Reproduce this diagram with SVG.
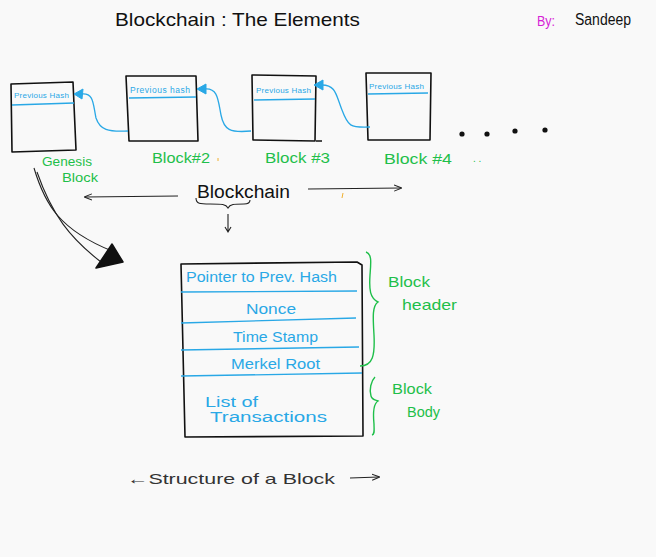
<svg xmlns="http://www.w3.org/2000/svg" width="656" height="557" viewBox="0 0 656 557">
<defs>
<style>
.bg{fill:#f9f9f9}
.box{fill:none;stroke:#111;stroke-width:1.6;stroke-linejoin:round}
.sep{fill:none;stroke:#29a8e6;stroke-width:1.3}
.con{fill:none;stroke:#29a8e6;stroke-width:1.3}
.head{fill:#29a8e6;stroke:#29a8e6;stroke-width:1;stroke-linejoin:round}
.ink{fill:none;stroke:#222;stroke-width:1.1}
.brace{fill:none;stroke:#1fbf4a;stroke-width:1.4}
.t{font-family:"Liberation Sans",Arial,sans-serif}
.blue{fill:#29a8e6}
.green{fill:#1fbf4a}
.black{fill:#111}
</style>
<marker id="open" viewBox="0 0 10 10" refX="9" refY="5" markerWidth="7" markerHeight="7" orient="auto">
<path d="M0,1 L10,5 L0,9" fill="none" stroke="#222" stroke-width="1.3"/>
</marker>
</defs>
<rect class="bg" x="0" y="0" width="656" height="557"/>

<g id="title">
<text class="t black" x="115" y="26" font-size="19" textLength="245" lengthAdjust="spacingAndGlyphs">Blockchain : The Elements</text>
<text class="t" x="537" y="26" font-size="15" fill="#d61fd6" textLength="18" lengthAdjust="spacingAndGlyphs">By:</text>
<text class="t black" x="575" y="25" font-size="16" textLength="56" lengthAdjust="spacingAndGlyphs">Sandeep</text>
</g>

<g id="genesis">
<path class="box" d="M11,84 L73,82 L76,150 L12,152 Z"/>
<path class="sep" d="M12,105 L74,103"/>
<text class="t blue" x="14" y="98" font-size="8" textLength="55">Previous Hash</text>
<text class="t green" x="42" y="166" font-size="13" textLength="50" lengthAdjust="spacingAndGlyphs">Genesis</text>
<text class="t green" x="62" y="182" font-size="13" textLength="36" lengthAdjust="spacingAndGlyphs">Block</text>
</g>

<g id="block2">
<path class="box" d="M126,76 L196,76 L198,141 L129,141 Z"/>
<path class="sep" d="M129,98 L196,97"/>
<text class="t blue" x="130" y="93" font-size="8.5" textLength="60">Previous hash</text>
<text class="t green" x="152" y="163" font-size="14" textLength="58" lengthAdjust="spacingAndGlyphs">Block#2</text>
</g>

<g id="block3">
<path class="box" d="M252,75 L316,76 L315,141 L253,140 Z M316,141 L322,141"/>
<path class="sep" d="M254,100 L315,99"/>
<text class="t blue" x="256" y="93" font-size="8" textLength="55">Previous Hash</text>
<text class="t green" x="265" y="163" font-size="14" textLength="65" lengthAdjust="spacingAndGlyphs">Block #3</text>
</g>

<g id="block4">
<path class="box" d="M366,73 L431,73 L430,140 L368,140 Z"/>
<path class="sep" d="M368,94 L428,93"/>
<text class="t blue" x="369" y="89" font-size="8" textLength="55">Previous Hash</text>
<text class="t green" x="384" y="164" font-size="15" textLength="68" lengthAdjust="spacingAndGlyphs">Block #4</text>
<text class="t green" x="473" y="162" font-size="10">. .</text>
</g>

<g id="dots" fill="#111">
<circle cx="462" cy="134" r="2.6"/>
<circle cx="487" cy="134" r="2.6"/>
<circle cx="515" cy="131" r="2.6"/>
<circle cx="545" cy="130" r="2.6"/>
</g>

<g id="connectors">
<path class="con" d="M128,131 C108,132 100,130 96,118 C93,104 94,93 82,94"/>
<path class="head" d="M74,94 L83,89 L82,99 Z"/>
<path class="con" d="M251,131 C230,133 224,130 221,115 C218,100 218,88 205,89"/>
<path class="head" d="M197,89 L206,84 L206,94 Z"/>
<path class="con" d="M370,127 C350,128 348,126 342,110 C336,95 336,85 322,85"/>
<path class="head" d="M314,85 L323,80 L323,90 Z"/>
</g>

<g id="chain-label">
<text class="t black" x="197" y="198" font-size="18" textLength="93" lengthAdjust="spacingAndGlyphs">Blockchain</text>
<path class="ink" marker-end="url(#open)" d="M178,196 L85,197"/>
<path class="ink" marker-end="url(#open)" d="M308,189 L401,188"/>
<path class="ink" d="M196,198 C196,204 200,204 210,204 C222,204 226,204 228,208 C230,204 234,204 244,204 C249,204 250,202 250,200"/>
<path class="ink" d="M228,214 L228,231 M225,227 L228,232 L231,227"/>
<path d="M218,158 L218,161" stroke="#f0b030" stroke-width="1"/>
<path d="M343,193 L342,198" stroke="#f0b030" stroke-width="1"/>
</g>

<g id="big-arrow">
<path class="ink" d="M34,168 C45,205 60,230 112,251"/>
<path class="ink" d="M37,172 C52,215 70,238 101,262"/>
<path d="M112,244 L123,262 L96,268 Z" fill="#111" stroke="#111" stroke-width="1.5" stroke-linejoin="round"/>
</g>

<g id="structure">
<path class="box" d="M181,264 L357,262 L362,265 L363,436 L185,437 Z"/>
<path class="sep" d="M181,292 L357,291"/>
<path class="sep" d="M181,323 L356,318"/>
<path class="sep" d="M181,350 L359,347"/>
<path class="sep" d="M181,376 L362,373"/>
<text class="t blue" x="186" y="282" font-size="14" textLength="151" lengthAdjust="spacingAndGlyphs">Pointer to Prev. Hash</text>
<text class="t blue" x="246" y="314" font-size="15" textLength="50" lengthAdjust="spacingAndGlyphs">Nonce</text>
<text class="t blue" x="233" y="342" font-size="15" textLength="85" lengthAdjust="spacingAndGlyphs">Time Stamp</text>
<text class="t blue" x="231" y="369" font-size="15" textLength="89" lengthAdjust="spacingAndGlyphs">Merkel Root</text>
<text class="t blue" x="205" y="407" font-size="14" textLength="53" lengthAdjust="spacingAndGlyphs">List of</text>
<text class="t blue" x="210" y="422" font-size="14" textLength="117" lengthAdjust="spacingAndGlyphs">Transactions</text>
</g>

<g id="header-brace">
<path class="brace" d="M366,252 C372,254 371,262 370,275 C369,290 370,298 378,302 C372,306 373,318 374,335 C375,355 373,366 360,366"/>
<text class="t green" x="388" y="287" font-size="15" textLength="42" lengthAdjust="spacingAndGlyphs">Block</text>
<text class="t green" x="402" y="310" font-size="15" textLength="55" lengthAdjust="spacingAndGlyphs">header</text>
</g>

<g id="body-brace">
<path class="brace" d="M375,377 C371,381 369,390 371,396 C372,400 376,400 378,401 C373,404 373,414 374,424 C374,430 375,434 372,435"/>
<text class="t green" x="392" y="394" font-size="15" textLength="40" lengthAdjust="spacingAndGlyphs">Block</text>
<text class="t green" x="407" y="417" font-size="15" textLength="33" lengthAdjust="spacingAndGlyphs">Body</text>
</g>

<g id="footer">
<text class="t" x="127" y="484" font-size="15" fill="#333" textLength="208" lengthAdjust="spacingAndGlyphs">←Structure of a Block</text>
<path class="ink" marker-end="url(#open)" d="M350,478 L379,477"/>
</g>
</svg>
